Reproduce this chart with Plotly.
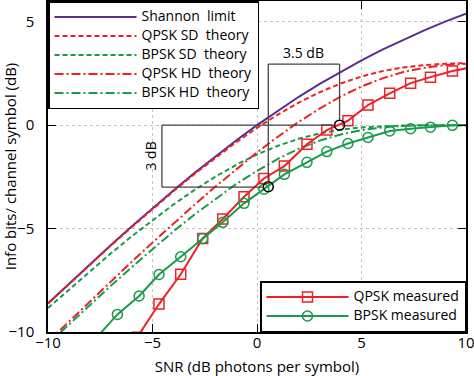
import plotly.graph_objects as go

# ---------------- data ----------------
snr_theory = [-10, -9, -8, -7, -6, -5, -4, -3, -2, -1, 0, 1, 2, 3, 4, 5, 6, 7, 8, 9, 10]
shannon = [-8.62, -7.67, -6.73, -5.81, -4.90, -4.02, -3.16, -2.32, -1.51, -0.74, 0.00,
           0.70, 1.37, 1.99, 2.58, 3.13, 3.65, 4.13, 4.58, 5.00, 5.39]
qpsk_sd = [-8.62, -7.68, -6.75, -5.83, -4.94, -4.06, -3.20, -2.37, -1.58, -0.83, -0.13,
           0.51, 1.09, 1.59, 2.01, 2.35, 2.61, 2.79, 2.90, 2.97, 3.00]
bpsk_sd = [-8.84, -7.95, -7.07, -6.21, -5.38, -4.59, -3.84, -3.14, -2.50, -1.92, -1.42,
           -1.00, -0.66, -0.40, -0.22, -0.11, -0.05, -0.02, -0.004, -0.001, 0.0]
qpsk_hd = [-10.47, -9.50, -8.53, -7.57, -6.61, -5.68, -4.76, -3.86, -2.98, -2.13, -1.32,
           -0.56, 0.16, 0.80, 1.38, 1.87, 2.26, 2.57, 2.77, 2.90, 2.97]
bpsk_hd = [-10.58, -9.63, -8.69, -7.77, -6.87, -5.99, -5.14, -4.33, -3.57, -2.85, -2.21,
           -1.63, -1.14, -0.75, -0.45, -0.24, -0.11, -0.04, -0.01, -0.002, 0.0]

qpsk_meas_x = [-5.73, -4.69, -3.65, -2.60, -1.64, -0.62, 0.33, 1.31, 2.39, 3.34, 4.35,
               5.31, 6.35, 7.35, 8.30, 9.35, 10.35]
qpsk_meas_y = [-10.25, -8.65, -7.21, -5.48, -4.54, -3.46, -2.58, -1.98, -0.92, -0.24, 0.21,
               0.97, 1.54, 2.03, 2.32, 2.62, 2.81]
bpsk_meas_x = [-7.72, -6.68, -5.64, -4.69, -3.65, -2.60, -1.64, -0.62, 0.33, 1.31, 2.39,
               3.34, 4.35, 5.31, 6.35, 7.35, 8.30, 9.35, 10.35]
bpsk_meas_y = [-10.32, -9.15, -8.26, -7.22, -6.36, -5.48, -4.70, -3.78, -3.10, -2.38, -1.80,
               -1.28, -0.89, -0.60, -0.28, -0.17, -0.10, -0.01, 0.01]

# highlighted operating points
mark_x = [0.54, 3.95]
mark_y = [-2.98, 0.0]

# dimension annotations: 3 dB vertical gap, 3.5 dB horizontal gap
gap_3db_x = -4.55
gap_3db_levels = [0.0, -3.0]
gap_35_levels_x = [0.54, 3.95]
gap_35_top = 2.95

# ---------------- styles ----------------
PURPLE = "#5b2d90"
RED = "#ec2227"
GREEN = "#1a9b4b"
FONT = "Open Sans"
DOT = "5px,3px"
DASHDOT = "9px,3px,2px,3px"


def lg(t):
    return '<span style="font-size:14px">' + t + '</span>'


fig = go.Figure()
fig.add_trace(go.Scatter(x=snr_theory, y=shannon, mode="lines", name=lg("Shannon\u00a0\u00a0limit"),
                         line=dict(color=PURPLE, width=2), legend="legend"))
fig.add_trace(go.Scatter(x=snr_theory, y=qpsk_sd, mode="lines", name=lg("QPSK SD\u00a0\u00a0theory"),
                         line=dict(color=RED, width=2, dash=DOT), legend="legend"))
fig.add_trace(go.Scatter(x=snr_theory, y=bpsk_sd, mode="lines", name=lg("BPSK SD\u00a0\u00a0theory"),
                         line=dict(color=GREEN, width=2, dash=DOT), legend="legend"))
fig.add_trace(go.Scatter(x=snr_theory, y=qpsk_hd, mode="lines", name=lg("QPSK HD\u00a0\u00a0theory"),
                         line=dict(color=RED, width=2, dash=DASHDOT), legend="legend"))
fig.add_trace(go.Scatter(x=snr_theory, y=bpsk_hd, mode="lines", name=lg("BPSK HD\u00a0\u00a0theory"),
                         line=dict(color=GREEN, width=2, dash=DASHDOT), legend="legend"))

fig.add_trace(go.Scatter(x=qpsk_meas_x, y=qpsk_meas_y, mode="lines+markers", name=lg("QPSK measured"),
                         line=dict(color=RED, width=2),
                         marker=dict(symbol="square-open", size=10, color=RED, line=dict(width=1.5)),
                         legend="legend2"))
fig.add_trace(go.Scatter(x=bpsk_meas_x, y=bpsk_meas_y, mode="lines+markers", name=lg("BPSK measured"),
                         line=dict(color=GREEN, width=2),
                         marker=dict(symbol="circle-open", size=10, color=GREEN, line=dict(width=1.5)),
                         legend="legend2"))

fig.add_trace(go.Scatter(x=mark_x, y=mark_y, mode="markers", showlegend=False,
                         marker=dict(symbol="circle-open", size=10, color="black", line=dict(width=1.5))))

# dimension lines
LC = "#444444"
shapes = []
shapes.append(dict(type="line", xref="x", yref="y", x0=gap_3db_x, x1=gap_35_levels_x[1] - 0.25,
                   y0=gap_3db_levels[0], y1=gap_3db_levels[0], line=dict(color=LC, width=1.3)))
shapes.append(dict(type="line", xref="x", yref="y", x0=gap_3db_x, x1=gap_35_levels_x[0] - 0.22,
                   y0=gap_3db_levels[1], y1=gap_3db_levels[1], line=dict(color=LC, width=1.3)))
shapes.append(dict(type="line", xref="x", yref="y", x0=gap_3db_x, x1=gap_3db_x,
                   y0=gap_3db_levels[0], y1=gap_3db_levels[1], line=dict(color=LC, width=1.3)))
shapes.append(dict(type="line", xref="x", yref="y", x0=gap_35_levels_x[0], x1=gap_35_levels_x[0],
                   y0=gap_35_top, y1=mark_y[0] + 0.22, line=dict(color=LC, width=1.3)))
shapes.append(dict(type="line", xref="x", yref="y", x0=gap_35_levels_x[1], x1=gap_35_levels_x[1],
                   y0=gap_35_top, y1=mark_y[1] + 0.24, line=dict(color=LC, width=1.3)))
shapes.append(dict(type="line", xref="x", yref="y", x0=gap_35_levels_x[0], x1=gap_35_levels_x[1],
                   y0=gap_35_top, y1=gap_35_top, line=dict(color=LC, width=1.3)))

annotations = [
    dict(x=gap_3db_x - 0.55, y=sum(gap_3db_levels) / 2, xref="x", yref="y", text="3 dB", showarrow=False,
         textangle=-90, font=dict(family=FONT, size=14, color="black")),
    dict(x=sum(gap_35_levels_x) / 2, y=gap_35_top + 0.55, xref="x", yref="y", text="3.5 dB", showarrow=False,
         font=dict(family=FONT, size=14, color="black")),
]

axis_common = dict(showline=True, linecolor="black", linewidth=1.5, mirror="ticks",
                   ticks="inside", ticklen=8, tickwidth=1.2, tickcolor="black",
                   showgrid=True, gridcolor="#c4c4c4", griddash="dot", gridwidth=1,
                   zeroline=False, automargin=False, ticklabeloverflow="allow",
                   tickfont=dict(family=FONT, size=15, color="black"))

fig.update_layout(
    width=474, height=376,
    margin=dict(l=48, r=8, t=1, b=44, autoexpand=False),
    plot_bgcolor="white", paper_bgcolor="white",
    font=dict(family=FONT, size=15, color="black"),
    xaxis=dict(range=[-10, 10], tickvals=[-10, -5, 0, 5, 10],
               title=dict(text="SNR (dB photons per symbol)", font=dict(family=FONT, size=15), standoff=13),
               ticklabelstandoff=-4, **axis_common),
    yaxis=dict(range=[-10, 6], tickvals=[-10, -5, 0, 5],
               title=dict(text="Info bits/ channel symbol (dB)", font=dict(family=FONT, size=15), standoff=0),
               ticklabelstandoff=9, **axis_common),
    legend=dict(x=0, y=1, xanchor="left", yanchor="top", bgcolor="white", bordercolor="black",
                borderwidth=1.5, font=dict(family=FONT, size=11, color="black"), itemwidth=82,
                tracegroupgap=0),
    legend2=dict(x=1, y=0, xanchor="right", yanchor="bottom", bgcolor="white", bordercolor="black",
                 borderwidth=1.5, font=dict(family=FONT, size=11, color="black"), itemwidth=82,
                 tracegroupgap=0),
    shapes=shapes,
    annotations=annotations,
    showlegend=True,
)

fig.write_html("out.html", config={"displayModeBar": False},
               post_script="document.body.style.margin='0';document.body.style.overflow='hidden';")
